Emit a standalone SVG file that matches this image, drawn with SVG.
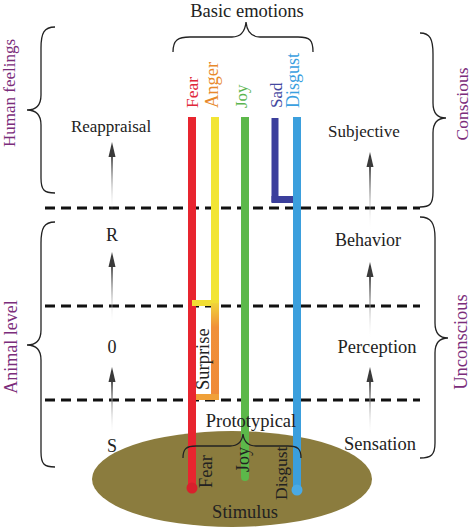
<svg xmlns="http://www.w3.org/2000/svg" width="474" height="531" viewBox="0 0 474 531">
<defs>
<style>
text{font-family:"Liberation Serif","Times New Roman",serif;fill:#222;}
.lbl{text-anchor:middle;}
.side{fill:#7b2d7b;text-anchor:middle;}
.brace{fill:none;stroke:#222;stroke-width:1.3;}
.dash{stroke:#111;stroke-width:3;stroke-dasharray:10 6;}
.shaft{fill:url(#fade);}
.head{fill:#3a3a3a;}
</style>
<linearGradient id="fade" x1="0" y1="0" x2="0" y2="1">
<stop offset="0" stop-color="#2a2a2a"/>
<stop offset="1" stop-color="#fff" stop-opacity="0"/>
</linearGradient>
<linearGradient id="yo" x1="0" y1="0" x2="0" y2="1">
<stop offset="0" stop-color="#f0d43a"/>
<stop offset="0.25" stop-color="#f0903a"/>
<stop offset="1" stop-color="#ef8a38"/>
</linearGradient>
</defs>
<rect width="474" height="531" fill="#fff"/>

<g id="stimulus">
<ellipse cx="232" cy="479" rx="140" ry="48" fill="#8b7c3e"/>
<text class="lbl" x="245" y="518" style="font-size:18.5px">Stimulus</text>
</g>

<g id="levels">
<line class="dash" x1="45" y1="208" x2="420" y2="208"/>
<line class="dash" x1="45" y1="306" x2="420" y2="306"/>
<line class="dash" x1="45" y1="400" x2="420" y2="400"/>
</g>

<g id="connectors">
<rect class="shaft" x="111" y="150" width="2" height="62"/>
<polygon class="head" points="112,142 108.5,157 115.5,157"/>
<rect class="shaft" x="111" y="260" width="2" height="64"/>
<polygon class="head" points="112,252 108.5,267 115.5,267"/>
<rect class="shaft" x="111" y="375" width="2" height="60"/>
<polygon class="head" points="112,367 108.5,382 115.5,382"/>
<rect class="shaft" x="369" y="160" width="2" height="70"/>
<polygon class="head" points="370,152 366.5,167 373.5,167"/>
<rect class="shaft" x="369" y="270" width="2" height="69"/>
<polygon class="head" points="370,262 366.5,277 373.5,277"/>
<rect class="shaft" x="369" y="375" width="2" height="60"/>
<polygon class="head" points="370,367 366.5,382 373.5,382"/>
</g>

<g id="bars">
<rect x="188" y="117" width="8" height="371" fill="#e8252f"/>
<circle cx="192" cy="488" r="5.5" fill="#d8202c"/>
<rect x="211" y="117" width="8" height="188" fill="#f2e534"/>
<rect x="192" y="300" width="27" height="6" fill="#f2de34"/>
<rect x="211" y="303" width="8" height="97" fill="url(#yo)"/>
<rect x="196" y="394" width="23" height="6" fill="#f0a038"/>
<rect x="241" y="117" width="8" height="360" fill="#5cb84a"/>
<circle cx="245" cy="477" r="4" fill="#5cb84a"/>
<rect x="271.5" y="118" width="7" height="84" fill="#3b3f9c"/>
<rect x="271.5" y="196" width="25" height="7" fill="#3b3f9c"/>
<rect x="293" y="117" width="8" height="373" fill="#3b9fdd"/>
<circle cx="297" cy="490" r="5.5" fill="#4aaae5"/>
</g>

<g id="basic-emotions">
<text class="lbl" x="247" y="17" style="font-size:18.5px">Basic emotions</text>
<path class="brace" d="M173,52 C173,40 178,37 190,37 L232,37 C240,37 245,32 246,22 C247,32 252,37 260,37 L298,37 C310,37 313,40 313,52"/>
<text transform="translate(198,108) rotate(-90)" style="font-size:17.5px;fill:#e0283a">Fear</text>
<text transform="translate(218,108) rotate(-90)" style="font-size:18.5px;fill:#e8892c">Anger</text>
<text transform="translate(247,108) rotate(-90)" style="font-size:17px;fill:#5bb550">Joy</text>
<text transform="translate(282,108) rotate(-90)" style="font-size:17px;fill:#4448a0">Sad</text>
<text transform="translate(299,108) rotate(-90)" style="font-size:18px;fill:#3aa0e0">Disgust</text>
</g>

<g id="surprise">
<text transform="translate(209,390) rotate(-90)" style="font-size:18.5px">Surprise</text>
</g>

<g id="prototypical">
<text class="lbl" x="251" y="427" style="font-size:18.5px">Prototypical</text>
<path class="brace" d="M183,458 C183,449 186,446 196,446 L230,446 C238,446 242,442 243,434 C244,442 248,446 256,446 L288,446 C298,446 301,449 301,458"/>
<text transform="translate(212,488) rotate(-90)" style="font-size:18.5px">Fear</text>
<text transform="translate(249,472) rotate(-90)" style="font-size:18px">Joy</text>
<text transform="translate(287,500) rotate(-90)" style="font-size:17.5px">Disgust</text>
</g>

<g id="left-labels">
<text class="lbl" x="111" y="132" style="font-size:17px">Reappraisal</text>
<text class="lbl" x="112" y="241" style="font-size:18px">R</text>
<text class="lbl" x="112" y="353" style="font-size:18px">0</text>
<text class="lbl" x="112" y="452" style="font-size:18px">S</text>
</g>

<g id="right-labels">
<text class="lbl" x="364" y="137" style="font-size:17px">Subjective</text>
<text class="lbl" x="368" y="246" style="font-size:18px">Behavior</text>
<text class="lbl" x="377" y="353" style="font-size:18.5px">Perception</text>
<text class="lbl" x="380" y="450" style="font-size:18.5px">Sensation</text>
</g>

<g id="human-feelings">
<path class="brace" d="M55,27 C44,27 41,33 41,48 L41,95 C41,105 36,110 27,110 C36,110 41,115 41,125 L41,178 C41,190 44,193 55,193"/>
<text class="side" transform="translate(15,93) rotate(-90)" style="font-size:17px">Human feelings</text>
</g>

<g id="animal-level">
<path class="brace" d="M55,222 C44,222 41,228 41,243 L41,330 C41,340 36,345 27,345 C36,345 41,350 41,360 L41,452 C41,464 44,467 55,467"/>
<text class="side" transform="translate(17,347) rotate(-90)" style="font-size:18px">Animal level</text>
</g>

<g id="conscious">
<path class="brace" d="M420,33 C430,33 433,39 433,54 L433,103 C433,113 438,118 446,118 C438,118 433,123 433,133 L433,192 C433,204 430,207 420,207"/>
<text class="side" transform="translate(468,104) rotate(-90)" style="font-size:17.5px">Conscious</text>
</g>

<g id="unconscious">
<path class="brace" d="M420,217 C431,217 435,223 435,238 L435,323 C435,333 440,338 448,338 C440,338 435,343 435,353 L435,443 C435,455 431,458 420,458"/>
<text class="side" transform="translate(467,342) rotate(-90)" style="font-size:18.5px">Unconscious</text>
</g>
</svg>
